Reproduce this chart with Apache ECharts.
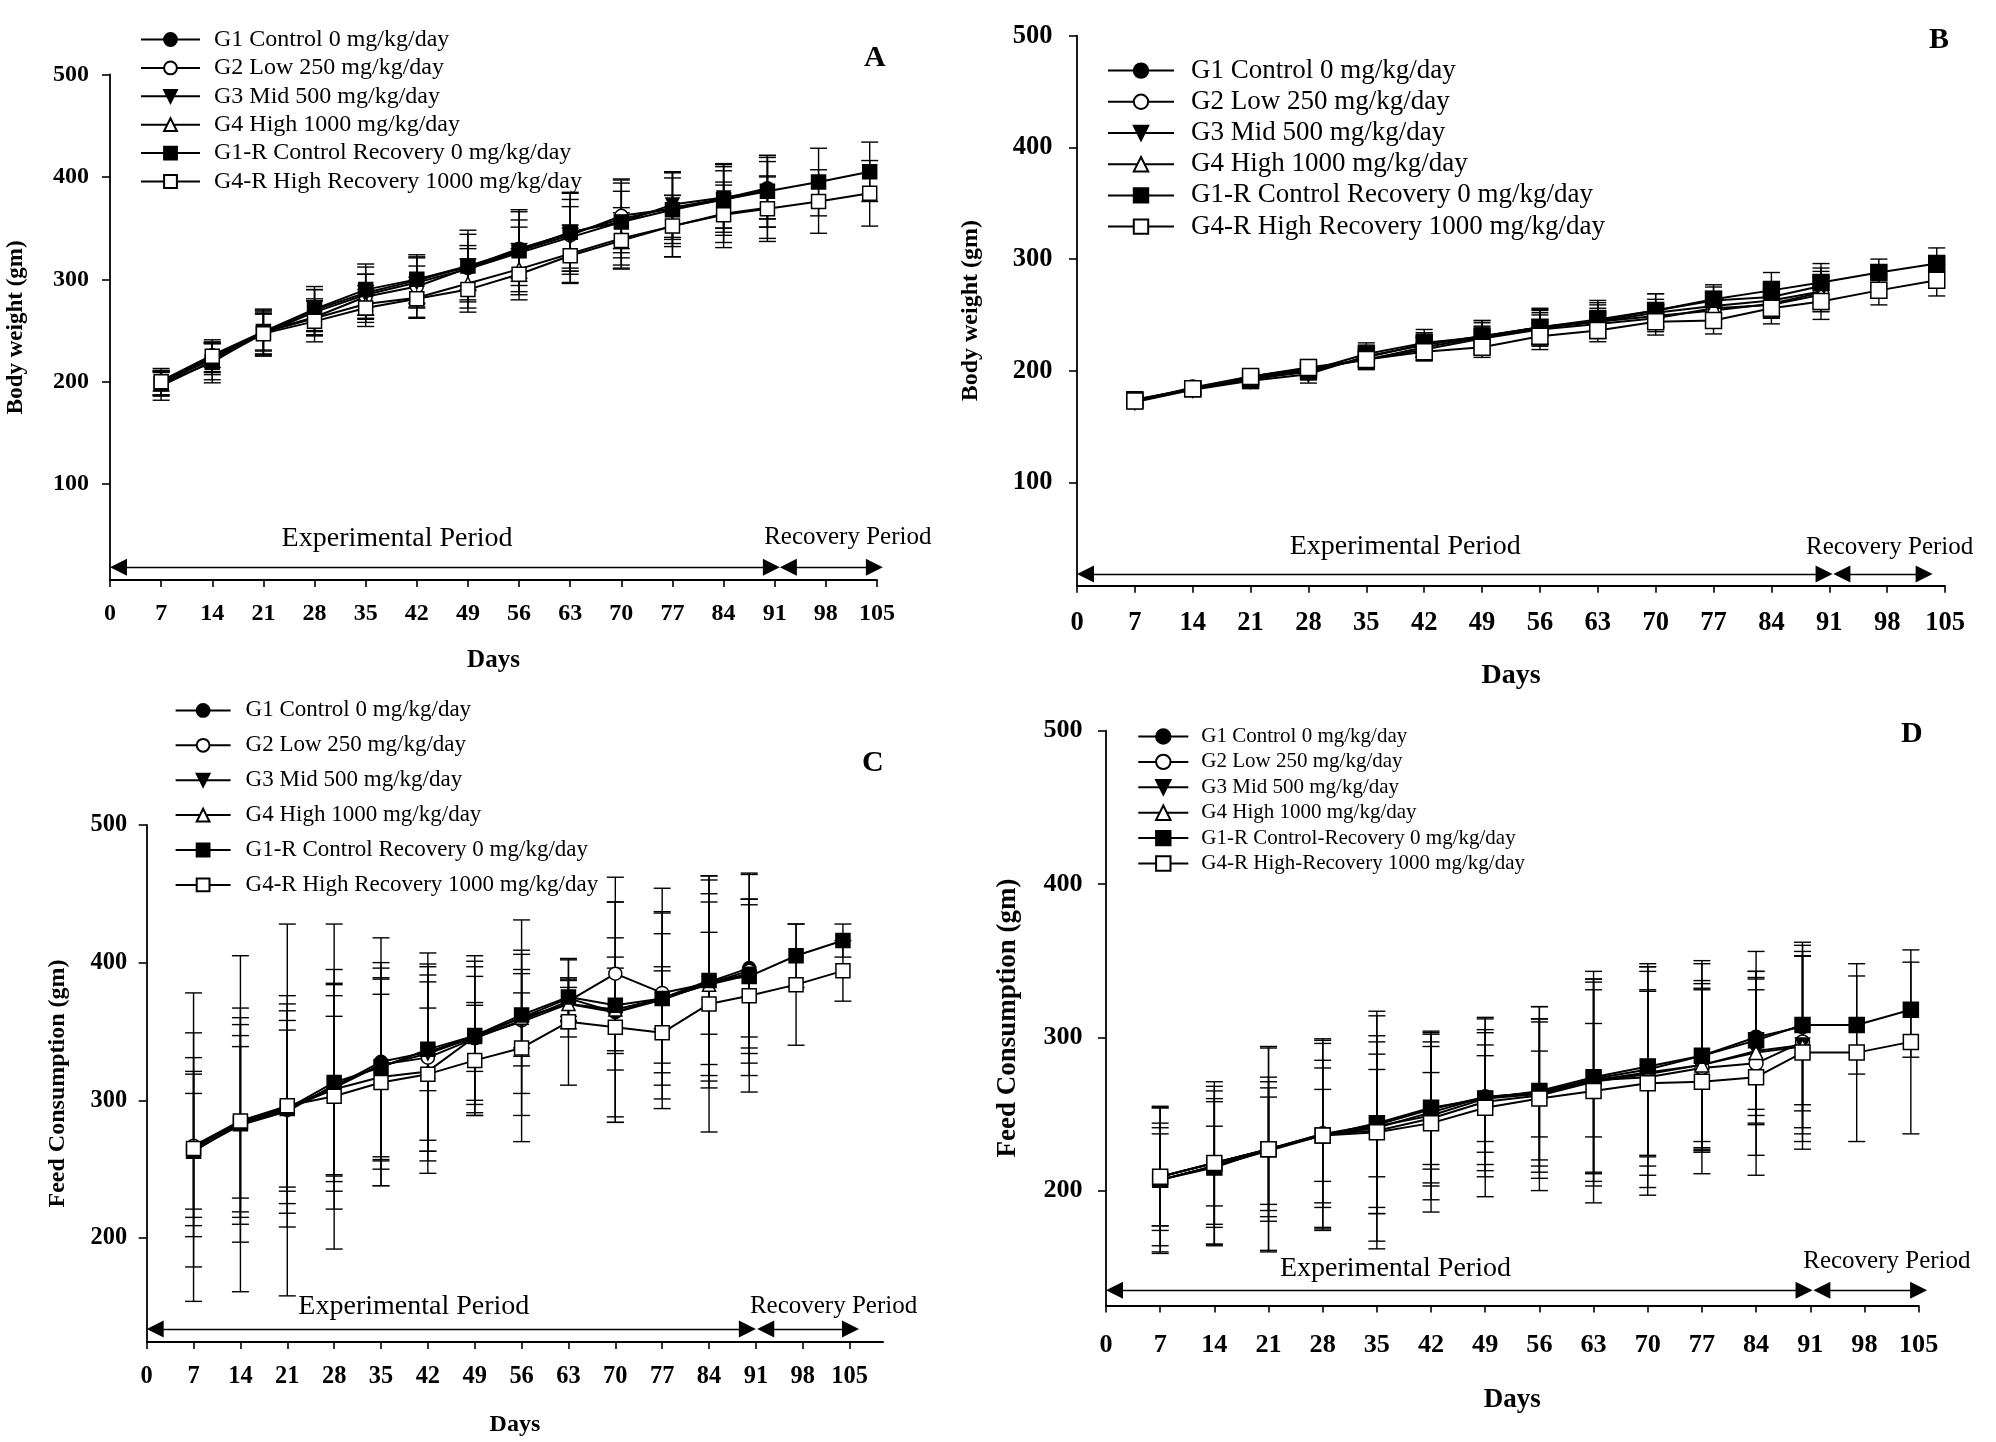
<!DOCTYPE html>
<html>
<head>
<meta charset="utf-8">
<script src="https://cdn.jsdelivr.net/npm/echarts@6/dist/echarts.min.js"></script>
<style>
html,body{margin:0;padding:0;background:#fff;}
#chart{width:1996px;height:1442px;}
</style>
</head>
<body>
<div id="chart"></div>
<script>
// ---------------- data ----------------
const DAYS_MAIN = [7, 14, 21, 28, 35, 42, 49, 56, 63, 70, 77, 84, 90];
const DAYS_REC = [7, 14, 21, 28, 35, 42, 49, 56, 63, 70, 77, 84, 90, 97, 104];
const X_TICKS = [0, 7, 14, 21, 28, 35, 42, 49, 56, 63, 70, 77, 84, 91, 98, 105];
const Y_TICKS_BW = [100, 200, 300, 400, 500];
const Y_TICKS_FC = [200, 300, 400, 500];

const NAMES = ['G1 Control 0 mg/kg/day', 'G2 Low 250 mg/kg/day', 'G3 Mid 500 mg/kg/day',
  'G4 High 1000 mg/kg/day', 'G1-R Control Recovery 0 mg/kg/day', 'G4-R High Recovery 1000 mg/kg/day'];
const NAMES_D = ['G1 Control 0 mg/kg/day', 'G2 Low 250 mg/kg/day', 'G3 Mid 500 mg/kg/day',
  'G4 High 1000 mg/kg/day', 'G1-R Control-Recovery 0 mg/kg/day', 'G4-R High-Recovery 1000 mg/kg/day'];

const PERIOD_TEXT = ['Experimental Period', 'Recovery Period'];
const PANEL_LETTERS = ['A', 'B', 'C', 'D'];
const Y_NAMES = ['Body weight (gm)', 'Body weight (gm)', 'Feed Consumption (gm)', 'Feed Consumption (gm)'];
const X_NAME = 'Days';

// Panel A: body weight (male)
const A_G1  = [199, 222, 248, 270, 287, 299, 312, 330, 345, 359, 370, 379, 389];
const A_G2  = [201, 226, 249, 263, 283, 293, 311, 328, 343, 362, 369, 378, 387];
const A_G3  = [196, 220, 247, 268, 285, 297, 310, 326, 341, 356, 373, 380, 386];
const A_G4  = [198, 224, 248, 262, 276, 282, 296, 310, 325, 340, 352, 364, 370];
const A_G1R = [198, 219, 249, 271, 290, 300, 313, 328, 346, 356, 368, 378, 386, 395, 405];
const A_G4R = [200, 225, 247, 259, 272, 281, 290, 305, 323, 338, 352, 363, 369, 376, 384];
const A_G1_SD  = [12, 15, 22, 20, 25, 22, 32, 36, 40, 38, 35, 33, 30];
const A_G2_SD  = [10, 12, 18, 18, 22, 20, 22, 30, 35, 32, 30, 28, 28];
const A_G3_SD  = [14, 18, 20, 22, 20, 25, 20, 25, 30, 30, 32, 30, 35];
const A_G4_SD  = [11, 14, 18, 17, 18, 20, 24, 25, 28, 30, 30, 28, 30];
const A_G1R_SD = [12, 20, 22, 22, 25, 24, 35, 40, 38, 42, 36, 35, 35, 33, 29];
const A_G4R_SD = [13, 16, 22, 20, 18, 18, 22, 25, 27, 27, 30, 32, 32, 31, 32];

// Panel B: body weight (female)
const B_G1  = [174, 184, 193, 199, 212, 224, 231, 239, 245, 254, 263, 266, 276];
const B_G2  = [173, 185, 195, 202, 210, 221, 230, 238, 244, 249, 254, 260, 270];
const B_G3  = [172, 183, 191, 197, 213, 223, 231, 239, 244, 252, 258, 263, 271];
const B_G4  = [173, 184, 194, 201, 210, 219, 229, 237, 242, 247, 256, 259, 268];
const B_G1R = [174, 184, 192, 200, 215, 225, 230, 239, 246, 254, 264, 272, 279, 288, 296];
const B_G4R = [173, 184, 195, 203, 210, 217, 221, 231, 236, 244, 245, 256, 262, 272, 281];
const B_G1_SD  = [3, 5, 6, 7, 8, 10, 14, 15, 16, 15, 12, 14, 16];
const B_G2_SD  = [3, 4, 5, 6, 9, 9, 10, 14, 12, 10, 11, 13, 14];
const B_G3_SD  = [4, 5, 7, 8, 10, 11, 12, 16, 15, 12, 13, 15, 18];
const B_G4_SD  = [3, 4, 6, 6, 8, 10, 10, 13, 12, 12, 10, 12, 15];
const B_G1R_SD = [4, 6, 7, 8, 10, 12, 15, 17, 17, 15, 13, 16, 17, 12, 14];
const B_G4R_SD = [3, 5, 6, 7, 8, 8, 9, 12, 10, 12, 12, 14, 16, 13, 14];

// Panel C: feed consumption (male)
const C_G1  = [266, 283, 293, 310, 328, 335, 347, 360, 374, 364, 374, 386, 396];
const C_G2  = [267, 285, 295, 309, 326, 331, 345, 358, 372, 392, 378, 385, 394];
const C_G3  = [264, 282, 292, 311, 325, 334, 346, 357, 370, 364, 373, 385, 392];
const C_G4  = [266, 284, 294, 308, 317, 321, 346, 360, 370, 366, 374, 384, 391];
const C_G1R = [263, 283, 294, 313, 324, 337, 347, 362, 375, 369, 374, 387, 390, 405, 416];
const C_G4R = [265, 285, 296, 303, 313, 319, 329, 338, 357, 353, 349, 370, 376, 384, 394];
const C_G1_SD  = [112, 122, 135, 118, 90, 72, 58, 71, 28, 80, 80, 77, 69];
const C_G2_SD  = [52, 70, 70, 75, 70, 68, 45, 20, 15, 70, 58, 59, 48];
const C_G3_SD  = [85, 85, 84, 65, 75, 63, 55, 52, 18, 80, 21, 37, 54];
const C_G4_SD  = [65, 55, 57, 87, 60, 65, 25, 35, 12, 30, 63, 66, 73];
const C_G1R_SD = [42, 64, 76, 72, 65, 30, 50, 30, 14, 35, 47, 73, 56, 23, 12];
const C_G4R_SD = [56, 75, 62, 58, 75, 72, 40, 68, 46, 65, 48, 93, 70, 44, 22];

// Panel D: feed consumption (female)
const D_G1  = [207, 216, 227, 237, 243, 253, 261, 264, 273, 279, 288, 300, 307];
const D_G2  = [209, 218, 227, 236, 241, 251, 261, 264, 272, 274, 280, 283, 297];
const D_G3  = [207, 216, 226, 236, 242, 249, 260, 263, 272, 277, 282, 291, 295];
const D_G4  = [209, 218, 227, 237, 239, 247, 258, 262, 271, 276, 282, 290, 294];
const D_G1R = [207, 215, 227, 236, 244, 254, 260, 265, 274, 281, 288, 298, 308, 308, 318];
const D_G4R = [209, 218, 227, 236, 238, 244, 254, 260, 265, 270, 271, 274, 290, 290, 297];
const D_G1_SD  = [47, 52, 66, 62, 58, 50, 52, 56, 70, 69, 62, 56, 55];
const D_G2_SD  = [32, 40, 44, 44, 56, 46, 44, 48, 66, 72, 55, 60, 56];
const D_G3_SD  = [30, 26, 35, 60, 75, 55, 35, 28, 37, 54, 50, 48, 58];
const D_G4_SD  = [35, 42, 47, 48, 50, 30, 45, 50, 60, 54, 55, 41, 62];
const D_G1R_SD = [48, 50, 40, 30, 35, 40, 28, 45, 62, 65, 60, 45, 52, 32, 31];
const D_G4R_SD = [45, 53, 67, 62, 76, 58, 58, 60, 73, 73, 60, 64, 63, 58, 60];

// ---------------- layout & style ----------------
const FONT = "'Liberation Serif','Times New Roman',serif";
const MARKERS = [
  {symbol: 'circle', rotate: 0, fill: '#000'},
  {symbol: 'circle', rotate: 0, fill: '#fff'},
  {symbol: 'triangle', rotate: 180, fill: '#000'},
  {symbol: 'triangle', rotate: 0, fill: '#fff'},
  {symbol: 'rect', rotate: 0, fill: '#000'},
  {symbol: 'rect', rotate: 0, fill: '#fff'}
];
const ARROW_HEAD = 17;

const PANELS = [
  {
    names: NAMES,
    vals: [A_G1, A_G2, A_G3, A_G4, A_G1R, A_G4R],
    sds: [A_G1_SD, A_G2_SD, A_G3_SD, A_G4_SD, A_G1R_SD, A_G4R_SD],
    yTicks: Y_TICKS_BW,
    grid: {left: 110, top: 74.5, width: 767, height: 505.5},
    xMax: 105, yMin: 6.5,
    tickFont: 24, nameFont: 23, xNameFont: 25, yNameGap: 82, xNameGap: 68, yLabelMargin: 21, xLabelMargin: 22,
    legend: {left: 140, top: 27.5, itemWidth: 59, itemHeight: 16, font: 24, lh: 23, gap: 4.4, pad: 9},
    symbolSize: 13,
    letter: {left: 864, top: 43},
    arrowY: 19, arrows: [[0, 91.7], [91.7, 105.8]],
    texts: [[39.3, 47], [101, 47.7]]
  },
  {
    names: NAMES,
    vals: [B_G1, B_G2, B_G3, B_G4, B_G1R, B_G4R],
    sds: [B_G1_SD, B_G2_SD, B_G3_SD, B_G4_SD, B_G1R_SD, B_G4R_SD],
    yTicks: Y_TICKS_BW,
    grid: {left: 1077, top: 35.7, width: 868, height: 550},
    xMax: 105, yMin: 7.6,
    tickFont: 26.5, nameFont: 24, xNameFont: 28, yNameGap: 94, xNameGap: 76, yLabelMargin: 24.5, xLabelMargin: 24,
    legend: {left: 1107, top: 57.1, itemWidth: 66, itemHeight: 18, font: 27, lh: 27, gap: 4.2, pad: 12},
    symbolSize: 15,
    letter: {left: 1929, top: 25},
    arrowY: 18, arrows: [[0, 91.4], [91.5, 103.5]],
    texts: [[39.7, 42.3], [98.3, 42.3]]
  },
  {
    names: NAMES,
    vals: [C_G1, C_G2, C_G3, C_G4, C_G1R, C_G4R],
    sds: [C_G1_SD, C_G2_SD, C_G3_SD, C_G4_SD, C_G1R_SD, C_G4R_SD],
    yTicks: Y_TICKS_FC,
    grid: {left: 146.7, top: 824.9, width: 736.4, height: 517.1},
    xMax: 110, yMin: 124.5,
    tickFont: 24.4, nameFont: 24, xNameFont: 24, yNameGap: 77, xNameGap: 71, yLabelMargin: 19.5, xLabelMargin: 23,
    legend: {left: 174.6, top: 698.9, itemWidth: 55, itemHeight: 16, font: 23, lh: 23, gap: 11.9, pad: 10},
    symbolSize: 13,
    letter: {left: 862, top: 748},
    arrowY: 134, arrows: [[0, 91], [91.2, 106.4]],
    texts: [[39.9, 150], [102.6, 150]]
  },
  {
    names: NAMES_D,
    vals: [D_G1, D_G2, D_G3, D_G4, D_G1R, D_G4R],
    sds: [D_G1_SD, D_G2_SD, D_G3_SD, D_G4_SD, D_G1R_SD, D_G4R_SD],
    yTicks: Y_TICKS_FC,
    grid: {left: 1106, top: 730.7, width: 812.6, height: 574.7},
    xMax: 105, yMin: 125.1,
    tickFont: 26.2, nameFont: 27, xNameFont: 27, yNameGap: 84, xNameGap: 81, yLabelMargin: 23.3, xLabelMargin: 26.8,
    legend: {left: 1137.3, top: 726, itemWidth: 50, itemHeight: 18, font: 21, lh: 21, gap: 4.4, pad: 8},
    symbolSize: 14,
    letter: {left: 1901, top: 719},
    arrowY: 135, arrows: [[0, 91.3], [91.4, 106.6]],
    texts: [[37.4, 148.9], [100.9, 153.6]]
  }
];

// ---------------- build option ----------------
function errRender(params, api) {
  const x = api.value(0), lo = api.value(1), hi = api.value(2);
  const pHi = api.coord([x, hi]);
  const pLo = api.coord([x, lo]);
  const hw = 8.5;
  const style = {stroke: '#000', lineWidth: 1.4, fill: null};
  return {
    type: 'group',
    children: [
      {type: 'line', shape: {x1: pHi[0], y1: pHi[1], x2: pLo[0], y2: pLo[1]}, style: style},
      {type: 'line', shape: {x1: pHi[0] - hw, y1: pHi[1], x2: pHi[0] + hw, y2: pHi[1]}, style: style},
      {type: 'line', shape: {x1: pLo[0] - hw, y1: pLo[1], x2: pLo[0] + hw, y2: pLo[1]}, style: style}
    ]
  };
}

const option = {
  backgroundColor: '#fff',
  animation: false,
  grid: [], xAxis: [], yAxis: [], legend: [], title: [], series: []
};

PANELS.forEach((p, k) => {
  option.grid.push(Object.assign({containLabel: false, outerBoundsMode: 'none'}, p.grid));
  option.xAxis.push({
    type: 'value', gridIndex: k, min: 0, max: p.xMax,
    name: X_NAME, nameLocation: 'middle', nameGap: p.xNameGap,
    nameTextStyle: {fontFamily: FONT, fontWeight: 'bold', fontSize: p.xNameFont, color: '#000'},
    axisLine: {lineStyle: {color: '#000', width: 1.8}},
    axisTick: {show: true, length: 7, lineStyle: {color: '#000', width: 1.6}, customValues: X_TICKS},
    axisLabel: {fontFamily: FONT, fontWeight: 'bold', fontSize: p.tickFont, color: '#000',
      margin: p.xLabelMargin, customValues: X_TICKS},
    splitLine: {show: false}
  });
  option.yAxis.push({
    type: 'value', gridIndex: k, min: p.yMin, max: 500,
    name: Y_NAMES[k], nameLocation: 'middle', nameGap: p.yNameGap,
    nameTextStyle: {fontFamily: FONT, fontWeight: 'bold', fontSize: p.nameFont, color: '#000'},
    axisLine: {show: true, lineStyle: {color: '#000', width: 1.8}},
    axisTick: {show: true, length: 8, lineStyle: {color: '#000', width: 1.6}, customValues: p.yTicks},
    axisLabel: {fontFamily: FONT, fontWeight: 'bold', fontSize: p.tickFont, color: '#000',
      margin: p.yLabelMargin, customValues: p.yTicks},
    splitLine: {show: false}
  });
  option.title.push({
    text: PANEL_LETTERS[k], left: p.letter.left, top: p.letter.top, padding: 0,
    textStyle: {fontFamily: FONT, fontWeight: 'bold', fontSize: 30, color: '#000'}
  });
  option.legend.push({
    data: p.names, orient: 'vertical', left: p.legend.left, top: p.legend.top, padding: 0,
    itemWidth: p.legend.itemWidth, itemHeight: p.legend.itemHeight, itemGap: p.legend.gap,
    selectedMode: false,
    textStyle: {fontFamily: FONT, fontSize: p.legend.font, lineHeight: p.legend.lh, color: '#000',
      padding: [0, 0, 0, p.legend.pad]}
  });

  // error bars
  const errData = [];
  p.vals.forEach((vals, s) => {
    const days = vals.length === DAYS_REC.length ? DAYS_REC : DAYS_MAIN;
    vals.forEach((v, i) => {
      const sd = p.sds[s][i];
      errData.push([days[i], v - sd, v + sd]);
    });
  });
  option.series.push({
    type: 'custom', name: 'err' + k, xAxisIndex: k, yAxisIndex: k, z: 1,
    renderItem: errRender, encode: {x: 0, y: [1, 2]}, data: errData, silent: true
  });

  // arrow heads are centred on the line ends: pull ends in by half a head so tips land on the given days
  // (ends are kept inside the axis range, otherwise the mark line is dropped)
  const halfHeadDays = (ARROW_HEAD / 2) / (p.grid.width / p.xMax);

  // lines
  p.vals.forEach((vals, s) => {
    const days = vals.length === DAYS_REC.length ? DAYS_REC : DAYS_MAIN;
    const m = MARKERS[s];
    const ser = {
      type: 'line', name: p.names[s], xAxisIndex: k, yAxisIndex: k, z: 3 + s,
      data: vals.map((v, i) => [days[i], v]),
      symbol: m.symbol, symbolRotate: m.rotate,
      symbolSize: m.symbol === 'rect' ? p.symbolSize + 1 : p.symbolSize,
      showAllSymbol: true,
      lineStyle: {color: '#000', width: 2},
      itemStyle: {color: m.fill, borderColor: '#000', borderWidth: 1.5},
      emphasis: {disabled: true}, silent: true
    };
    if (s === 0) {
      ser.clip = false;
      ser.markLine = {
        silent: true, animation: false,
        symbol: ['triangle', 'triangle'],
        symbolSize: ARROW_HEAD,
        lineStyle: {color: '#000', width: 1.4, type: 'solid'},
        label: {show: false},
        emphasis: {disabled: true},
        data: p.arrows.map(a => [
          {coord: [Math.max(0, a[0] + halfHeadDays), p.arrowY]},
          {coord: [Math.min(p.xMax, a[1] - halfHeadDays), p.arrowY]}
        ])
      };
      ser.markPoint = {
        silent: true, animation: false, symbol: 'rect', symbolSize: 1,
        itemStyle: {color: 'rgba(0,0,0,0)'},
        label: {show: true, position: 'inside', formatter: '{b}', color: '#000', fontFamily: FONT},
        data: p.texts.map((t, j) => ({name: PERIOD_TEXT[j], coord: t,
          label: {fontSize: j === 0 ? 28 : 25}}))
      };
    }
    option.series.push(ser);
  });
});

const chart = echarts.init(document.getElementById('chart'), null, {renderer: 'canvas'});
chart.setOption(option);
</script>
</body>
</html>
